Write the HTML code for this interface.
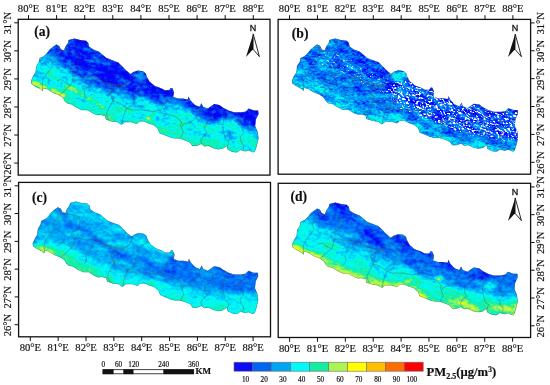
<!DOCTYPE html>
<html lang="en"><head><meta charset="utf-8"><title>PM2.5 Nepal</title>
<style>html,body{margin:0;padding:0;background:#fff}svg{display:block}text{font-family:"Liberation Serif","Times New Roman",serif;fill:#111;stroke:#111;stroke-width:0.18px}.ax{font-size:10.6px}.sm{font-size:7.2px}.lab{font-size:13.6px;font-weight:bold}.n{font-family:"Liberation Sans",Arial,sans-serif;font-size:9px;stroke-width:0.3px}</style></head><body>
<svg width="550" height="385" viewBox="0 0 550 385">
<rect width="550" height="385" fill="#fff"/>
<defs>
<g id="dl" fill="none" stroke="#4a5558" stroke-linejoin="round"><path stroke-opacity="0.8" stroke-width="0.5" d="M56.9 44.8 L58.7 51.2 L56.9 55.8 L51.4 60.4 L53.2 65.9 L49.5 70.5 L45.9 75.1 L43.1 79.6 L42.2 84.2 L43.1 90.7 M58.7 51.2 L66.0 51.2 L72.4 52.1 L77.9 53.9 L78.8 58.5 L77.9 63.1 L76.1 67.7 L70.6 69.5 L69.7 72.3 L73.3 76.0 L72.4 81.5 L70.6 85.2 L63.3 91.6 L59.6 94.9 M56.9 80.6 L61.4 79.6 L65.1 82.4 L70.6 85.2 M73.0 76.0 L78.8 75.1 L84.3 77.8 L90.8 76.9 L94.4 76.0 L99.9 79.6 L104.5 82.4 L110.0 84.2 L116.4 86.1 L124.7 88.8 M94.4 76.0 L91.7 84.2 L87.1 87.9 L84.3 91.6 L85.3 97.1 L82.9 101.7 M110.0 84.2 L111.8 89.7 L110.0 94.3 L113.7 98.0 L112.8 103.5 M132.0 73.2 L130.2 79.6 L126.5 84.2 L116.4 85.2 L110.0 83.3 L104.5 82.4 L99.0 79.6 L94.4 76.0 M126.5 84.2 L118.2 87.0 L112.8 90.7 L110.0 93.4 L112.8 100.8 L108.2 109.0 L106.3 114.5 L109.1 120.0 M147.6 74.1 L146.7 79.6 L141.2 83.3 L136.6 87.0 L137.5 91.6 L134.7 98.0 L132.9 105.4 L126.5 108.1 L132.0 109.9 L143.0 109.9 L153.1 111.8 L159.5 109.9 L162.2 112.7 L167.7 114.5 L175.1 116.4 L181.5 121.9 L180.6 126.5 M173.2 90.7 L168.6 98.0 L163.2 104.4 L161.3 109.9 L159.5 109.9 M126.5 108.1 L122.8 118.2 L121.9 124.6 M112.8 100.8 L119.2 102.6 L126.5 108.1 M199.8 106.7 L198.9 113.2 L195.2 118.7 L190.6 122.3 L183.3 124.2 L181.5 127.8 L183.3 132.4 L180.6 137.9 L178.7 141.6 M211.7 109.5 L212.6 115.0 L209.0 120.5 L205.3 124.2 L204.4 128.8 L207.1 133.4 L202.6 137.0 L200.7 140.7 L202.6 146.2 M223.6 109.5 L224.5 116.8 L222.7 124.2 L223.6 131.5 L225.5 138.9 L229.1 141.6 L227.3 146.2 L226.4 150.8 M245.6 113.2 L243.8 116.8 L240.1 119.6 L238.3 124.2 L242.0 128.8 L243.8 133.4 L240.1 137.0 L241.0 141.6 L243.8 145.3 L242.9 150.8"/><path stroke-opacity="0.8" stroke-width="0.8" d="M30.8 81.2 L33.0 76.3 L35.5 72.3 L36.0 66.5 L38.8 62.0 L39.5 58.3 L43.9 56.1 L46.8 53.2 L49.7 49.5 L53.4 46.6 L56.3 44.5 L59.2 45.9 L61.1 49.5 L64.0 50.3 L65.4 46.6 L67.9 43.0 L68.6 40.1 L74.5 38.6 L80.3 40.1 L86.1 40.8 L88.3 43.0 L89.0 46.6 L93.4 49.5 L99.2 51.7 L103.5 55.4 L106.6 58.1 L112.5 60.3 L118.3 62.5 L121.9 66.1 L126.3 70.5 L130.6 74.1 L133.5 71.9 L137.9 70.5 L143.0 71.2 L145.9 73.4 L146.6 76.3 L149.5 81.4 L154.6 85.7 L160.5 87.9 L164.8 90.1 L169.2 90.1 L170.6 87.9 L172.3 88.1 L174.1 92.3 L173.2 96.8 L177.7 98.6 L183.2 98.6 L187.7 99.5 L188.6 96.5 L190.5 100.5 L195.0 105.0 L199.5 106.8 L201.4 103.2 L203.2 106.8 L207.7 108.6 L211.4 105.9 L214.1 104.1 L219.5 105.0 L223.2 107.7 L228.6 110.5 L234.1 112.3 L241.4 112.3 L245.9 111.4 L248.6 108.6 L254.1 110.5 L258.1 110.5 L258.6 114.1 L255.9 119.5 L255.2 126.3 L257.7 131.8 L258.6 138.5 L256.8 145.9 L255.0 151.4 L253.2 152.6 L248.6 150.5 L245.0 151.4 L240.5 150.1 L236.8 152.6 L232.3 151.9 L227.7 149.5 L226.8 145.9 L223.2 148.6 L218.6 149.5 L213.2 148.3 L208.6 145.9 L204.1 146.5 L201.4 144.1 L196.8 145.9 L192.3 145.9 L189.5 142.3 L185.0 140.5 L179.5 138.6 L174.1 138.6 L169.5 137.3 L164.1 135.0 L159.5 133.2 L157.7 128.6 L153.2 125.0 L147.7 123.2 L144.1 121.4 L139.5 121.4 L136.8 124.1 L131.4 122.3 L125.0 122.3 L121.4 125.0 L117.7 122.3 L111.4 121.4 L105.9 119.5 L105.0 115.9 L100.5 115.0 L97.7 115.3 L93.4 113.8 L87.5 110.2 L81.7 110.2 L75.9 107.3 L71.5 104.4 L67.2 103.6 L65.0 101.5 L62.8 97.8 L58.5 94.9 L52.6 92.7 L46.8 89.1 L43.2 88.4 L42.5 91.3 L40.3 89.1 L35.9 86.9 L31.5 84.0Z"/></g>
<clipPath id="nepal"><path d="M30.8 81.2 L33.0 76.3 L35.5 72.3 L36.0 66.5 L38.8 62.0 L39.5 58.3 L43.9 56.1 L46.8 53.2 L49.7 49.5 L53.4 46.6 L56.3 44.5 L59.2 45.9 L61.1 49.5 L64.0 50.3 L65.4 46.6 L67.9 43.0 L68.6 40.1 L74.5 38.6 L80.3 40.1 L86.1 40.8 L88.3 43.0 L89.0 46.6 L93.4 49.5 L99.2 51.7 L103.5 55.4 L106.6 58.1 L112.5 60.3 L118.3 62.5 L121.9 66.1 L126.3 70.5 L130.6 74.1 L133.5 71.9 L137.9 70.5 L143.0 71.2 L145.9 73.4 L146.6 76.3 L149.5 81.4 L154.6 85.7 L160.5 87.9 L164.8 90.1 L169.2 90.1 L170.6 87.9 L172.3 88.1 L174.1 92.3 L173.2 96.8 L177.7 98.6 L183.2 98.6 L187.7 99.5 L188.6 96.5 L190.5 100.5 L195.0 105.0 L199.5 106.8 L201.4 103.2 L203.2 106.8 L207.7 108.6 L211.4 105.9 L214.1 104.1 L219.5 105.0 L223.2 107.7 L228.6 110.5 L234.1 112.3 L241.4 112.3 L245.9 111.4 L248.6 108.6 L254.1 110.5 L258.1 110.5 L258.6 114.1 L255.9 119.5 L255.2 126.3 L257.7 131.8 L258.6 138.5 L256.8 145.9 L255.0 151.4 L253.2 152.6 L248.6 150.5 L245.0 151.4 L240.5 150.1 L236.8 152.6 L232.3 151.9 L227.7 149.5 L226.8 145.9 L223.2 148.6 L218.6 149.5 L213.2 148.3 L208.6 145.9 L204.1 146.5 L201.4 144.1 L196.8 145.9 L192.3 145.9 L189.5 142.3 L185.0 140.5 L179.5 138.6 L174.1 138.6 L169.5 137.3 L164.1 135.0 L159.5 133.2 L157.7 128.6 L153.2 125.0 L147.7 123.2 L144.1 121.4 L139.5 121.4 L136.8 124.1 L131.4 122.3 L125.0 122.3 L121.4 125.0 L117.7 122.3 L111.4 121.4 L105.9 119.5 L105.0 115.9 L100.5 115.0 L97.7 115.3 L93.4 113.8 L87.5 110.2 L81.7 110.2 L75.9 107.3 L71.5 104.4 L67.2 103.6 L65.0 101.5 L62.8 97.8 L58.5 94.9 L52.6 92.7 L46.8 89.1 L43.2 88.4 L42.5 91.3 L40.3 89.1 L35.9 86.9 L31.5 84.0Z"/></clipPath>
<filter id="fa" x="-20" y="-140" width="400" height="340" filterUnits="userSpaceOnUse" color-interpolation-filters="sRGB">
<feGaussianBlur in="SourceGraphic" stdDeviation="1.70" result="fld"/>
<feTurbulence type="fractalNoise" baseFrequency="0.060 0.120" numOctaves="3" seed="3" result="t1"/>
<feColorMatrix in="t1" type="matrix" values="1 0 0 0 0 1 0 0 0 0 1 0 0 0 0 0 0 0 0 1" result="n1"/>
<feComposite in="fld" in2="n1" operator="arithmetic" k1="0" k2="1" k3="0.275" k4="-0.138"/>
</filter>
<filter id="ca" x="0" y="0" width="290" height="190" filterUnits="userSpaceOnUse" color-interpolation-filters="sRGB">
<feTurbulence type="fractalNoise" baseFrequency="0.250 0.350" numOctaves="2" seed="23" result="t2"/>
<feColorMatrix in="t2" type="matrix" values="1 0 0 0 0 1 0 0 0 0 1 0 0 0 0 0 0 0 0 1" result="n2"/>
<feComposite in="SourceGraphic" in2="n2" operator="arithmetic" k1="0" k2="1" k3="0.225" k4="-0.112" result="v"/>
<feComponentTransfer in="v"><feFuncR type="table" tableValues="0.000 0.020 0.000 0.000 0.000 0.059 0.667 1.000 1.000 1.000 1.000"/><feFuncG type="table" tableValues="0.000 0.039 0.392 0.659 0.980 0.933 0.961 1.000 0.745 0.431 0.000"/><feFuncB type="table" tableValues="0.980 0.973 0.961 0.961 0.980 0.647 0.314 0.000 0.000 0.000 0.000"/><feFuncA type="linear" slope="0" intercept="1"/></feComponentTransfer>
</filter>
<filter id="fb" x="-20" y="-140" width="400" height="340" filterUnits="userSpaceOnUse" color-interpolation-filters="sRGB">
<feGaussianBlur in="SourceGraphic" stdDeviation="1.60" result="fld"/>
<feTurbulence type="fractalNoise" baseFrequency="0.070 0.180" numOctaves="3" seed="7" result="t1"/>
<feColorMatrix in="t1" type="matrix" values="1 0 0 0 0 1 0 0 0 0 1 0 0 0 0 0 0 0 0 1" result="n1"/>
<feComposite in="fld" in2="n1" operator="arithmetic" k1="0" k2="1" k3="0.400" k4="-0.200"/>
</filter>
<filter id="cb" x="0" y="0" width="290" height="190" filterUnits="userSpaceOnUse" color-interpolation-filters="sRGB">
<feTurbulence type="fractalNoise" baseFrequency="0.350 0.550" numOctaves="2" seed="27" result="t2"/>
<feColorMatrix in="t2" type="matrix" values="1 0 0 0 0 1 0 0 0 0 1 0 0 0 0 0 0 0 0 1" result="n2"/>
<feComposite in="SourceGraphic" in2="n2" operator="arithmetic" k1="0" k2="1" k3="0.300" k4="-0.150" result="v"/>
<feComponentTransfer in="v"><feFuncR type="table" tableValues="0.000 0.020 0.000 0.000 0.000 0.059 0.667 1.000 1.000 1.000 1.000"/><feFuncG type="table" tableValues="0.000 0.039 0.392 0.659 0.980 0.933 0.961 1.000 0.745 0.431 0.000"/><feFuncB type="table" tableValues="0.980 0.973 0.961 0.961 0.980 0.647 0.314 0.000 0.000 0.000 0.000"/><feFuncA type="linear" slope="0" intercept="1"/></feComponentTransfer>
</filter>
<filter id="fc" x="-20" y="-140" width="400" height="340" filterUnits="userSpaceOnUse" color-interpolation-filters="sRGB">
<feGaussianBlur in="SourceGraphic" stdDeviation="1.50" result="fld"/>
<feTurbulence type="fractalNoise" baseFrequency="0.050 0.100" numOctaves="3" seed="11" result="t1"/>
<feColorMatrix in="t1" type="matrix" values="1 0 0 0 0 1 0 0 0 0 1 0 0 0 0 0 0 0 0 1" result="n1"/>
<feComposite in="fld" in2="n1" operator="arithmetic" k1="0" k2="1" k3="0.200" k4="-0.100"/>
</filter>
<filter id="cc" x="0" y="0" width="290" height="190" filterUnits="userSpaceOnUse" color-interpolation-filters="sRGB">
<feTurbulence type="fractalNoise" baseFrequency="0.250 0.350" numOctaves="2" seed="31" result="t2"/>
<feColorMatrix in="t2" type="matrix" values="1 0 0 0 0 1 0 0 0 0 1 0 0 0 0 0 0 0 0 1" result="n2"/>
<feComposite in="SourceGraphic" in2="n2" operator="arithmetic" k1="0" k2="1" k3="0.150" k4="-0.075" result="v"/>
<feComponentTransfer in="v"><feFuncR type="table" tableValues="0.000 0.020 0.000 0.000 0.000 0.059 0.667 1.000 1.000 1.000 1.000"/><feFuncG type="table" tableValues="0.000 0.039 0.392 0.659 0.980 0.933 0.961 1.000 0.745 0.431 0.000"/><feFuncB type="table" tableValues="0.980 0.973 0.961 0.961 0.980 0.647 0.314 0.000 0.000 0.000 0.000"/><feFuncA type="linear" slope="0" intercept="1"/></feComponentTransfer>
</filter>
<filter id="fd" x="-20" y="-140" width="400" height="340" filterUnits="userSpaceOnUse" color-interpolation-filters="sRGB">
<feGaussianBlur in="SourceGraphic" stdDeviation="1.80" result="fld"/>
<feTurbulence type="fractalNoise" baseFrequency="0.050 0.100" numOctaves="3" seed="5" result="t1"/>
<feColorMatrix in="t1" type="matrix" values="1 0 0 0 0 1 0 0 0 0 1 0 0 0 0 0 0 0 0 1" result="n1"/>
<feComposite in="fld" in2="n1" operator="arithmetic" k1="0" k2="1" k3="0.275" k4="-0.138"/>
</filter>
<filter id="cd" x="0" y="0" width="290" height="190" filterUnits="userSpaceOnUse" color-interpolation-filters="sRGB">
<feTurbulence type="fractalNoise" baseFrequency="0.250 0.350" numOctaves="2" seed="25" result="t2"/>
<feColorMatrix in="t2" type="matrix" values="1 0 0 0 0 1 0 0 0 0 1 0 0 0 0 0 0 0 0 1" result="n2"/>
<feComposite in="SourceGraphic" in2="n2" operator="arithmetic" k1="0" k2="1" k3="0.175" k4="-0.088" result="v"/>
<feComponentTransfer in="v"><feFuncR type="table" tableValues="0.000 0.020 0.000 0.000 0.000 0.059 0.667 1.000 1.000 1.000 1.000"/><feFuncG type="table" tableValues="0.000 0.039 0.392 0.659 0.980 0.933 0.961 1.000 0.745 0.431 0.000"/><feFuncB type="table" tableValues="0.980 0.973 0.961 0.961 0.980 0.647 0.314 0.000 0.000 0.000 0.000"/><feFuncA type="linear" slope="0" intercept="1"/></feComponentTransfer>
</filter>
<filter id="spk" x="-20" y="-200" width="420" height="420" filterUnits="userSpaceOnUse" color-interpolation-filters="sRGB"><feGaussianBlur in="SourceGraphic" stdDeviation="3" result="m"/><feTurbulence type="fractalNoise" baseFrequency="0.38 1.1" numOctaves="2" seed="9" result="t"/><feColorMatrix in="t" type="matrix" values="0 0 0 0 1 0 0 0 0 1 0 0 0 0 1 1 0 0 0 0" result="w"/><feComposite in="w" in2="m" operator="arithmetic" k1="1" k2="0" k3="0" k4="0" result="wm"/><feComponentTransfer in="wm"><feFuncA type="linear" slope="9" intercept="-4.6"/></feComponentTransfer></filter>
</defs>
<g transform="translate(0.00,0.00) scale(1.0000,1.0000)">
<g clip-path="url(#nepal)"><g filter="url(#ca)"><g transform="rotate(17)"><g filter="url(#fa)"><g transform="rotate(-17)">
<rect x="-20" y="-20" width="340" height="240" fill="rgb(116,116,116)"/>
<polygon points="22.0,0.0 22.0,80.4 25.0,80.7 28.0,81.8 31.0,82.8 34.0,83.2 37.0,83.6 40.0,84.3 43.0,85.3 46.0,86.3 49.0,87.4 52.0,88.5 55.0,89.5 58.0,90.7 61.0,91.9 64.0,93.5 67.0,95.1 70.0,97.0 73.0,98.8 76.0,100.4 79.0,101.4 82.0,102.4 85.0,103.4 88.0,104.4 91.0,105.6 94.0,106.8 97.0,108.1 100.0,109.4 103.0,110.8 106.0,112.1 109.0,113.4 112.0,114.7 115.0,114.9 118.0,115.2 121.0,115.4 124.0,115.8 127.0,116.2 130.0,116.5 133.0,116.7 136.0,116.8 139.0,116.9 142.0,117.5 145.0,118.3 148.0,119.5 151.0,120.9 154.0,122.2 157.0,123.3 160.0,126.0 163.0,128.7 166.0,130.1 169.0,130.8 172.0,131.6 175.0,132.5 178.0,133.3 181.0,134.2 184.0,135.1 187.0,136.0 190.0,136.9 193.0,137.8 196.0,138.7 199.0,139.6 202.0,140.5 205.0,141.5 208.0,141.9 211.0,142.3 214.0,142.7 217.0,143.2 220.0,143.6 223.0,144.1 226.0,144.6 229.0,145.2 232.0,145.5 235.0,145.7 238.0,146.0 241.0,146.2 244.0,146.4 247.0,146.6 250.0,146.7 253.0,146.8 256.0,146.9 259.0,147.0 262.0,147.0 265.0,147.0 265.0,0.0" fill="rgb(102,102,102)"/>
<polygon points="22.0,0.0 22.0,84.8 25.0,84.2 28.0,82.4 31.0,80.6 34.0,70.5 37.0,62.9 40.0,58.7 43.0,58.7 46.0,59.2 49.0,60.0 52.0,61.3 55.0,63.2 58.0,66.2 61.0,69.0 64.0,70.7 67.0,72.7 70.0,75.3 73.0,78.2 76.0,81.0 79.0,83.5 82.0,86.1 85.0,88.6 88.0,89.0 91.0,90.1 94.0,91.2 97.0,92.4 100.0,93.6 103.0,94.8 106.0,96.0 109.0,96.9 112.0,97.8 115.0,98.1 118.0,98.5 121.0,98.9 124.0,99.6 127.0,100.5 130.0,101.4 133.0,101.6 136.0,101.4 139.0,101.3 142.0,101.5 145.0,101.9 148.0,103.5 151.0,105.5 154.0,107.0 157.0,107.3 160.0,108.1 163.0,108.7 166.0,108.5 169.0,108.0 172.0,107.5 175.0,107.7 178.0,107.9 181.0,108.8 184.0,110.8 187.0,112.9 190.0,114.9 193.0,116.8 196.0,118.7 199.0,120.6 202.0,122.5 205.0,124.4 208.0,125.1 211.0,125.8 214.0,126.6 217.0,126.1 220.0,124.9 223.0,124.0 226.0,123.4 229.0,122.9 232.0,124.0 235.0,125.9 238.0,127.8 241.0,129.6 244.0,131.4 247.0,132.2 250.0,132.5 253.0,132.9 256.0,133.3 259.0,133.5 262.0,133.5 265.0,133.5 265.0,0.0" fill="rgb(84,84,84)"/>
<polygon points="22.0,0.0 22.0,85.2 25.0,84.5 28.0,82.5 31.0,80.4 34.0,68.3 37.0,57.5 40.0,49.2 43.0,51.1 46.0,54.3 49.0,56.2 52.0,57.3 55.0,59.0 58.0,61.9 61.0,64.6 64.0,66.0 67.0,67.7 70.0,70.1 73.0,72.9 76.0,75.7 79.0,78.1 82.0,80.6 85.0,83.1 88.0,83.4 91.0,84.6 94.0,85.8 97.0,87.1 100.0,88.4 103.0,89.8 106.0,91.0 109.0,91.9 112.0,92.9 115.0,93.3 118.0,93.8 121.0,94.3 124.0,95.2 127.0,96.3 130.0,97.4 133.0,97.7 136.0,97.5 139.0,97.3 142.0,97.4 145.0,97.5 148.0,99.2 151.0,101.4 154.0,103.1 157.0,103.5 160.0,103.9 163.0,104.3 166.0,104.0 169.0,103.4 172.0,102.8 175.0,103.0 178.0,103.3 181.0,104.2 184.0,106.4 187.0,108.5 190.0,110.6 193.0,112.6 196.0,114.6 199.0,116.6 202.0,118.7 205.0,120.8 208.0,121.5 211.0,122.3 214.0,123.2 217.0,122.3 220.0,120.6 223.0,119.0 226.0,118.0 229.0,117.0 232.0,118.2 235.0,120.5 238.0,122.8 241.0,125.0 244.0,127.2 247.0,128.2 250.0,128.6 253.0,129.0 256.0,129.5 259.0,129.7 262.0,129.7 265.0,129.7 265.0,0.0" fill="rgb(50,50,50)"/>
<polygon points="22.0,0.0 22.0,85.6 25.0,84.8 28.0,82.5 31.0,80.2 34.0,67.0 37.0,55.3 40.0,46.3 43.0,42.1 46.0,40.3 49.0,44.5 52.0,50.2 55.0,51.1 58.0,53.3 61.0,56.3 64.0,58.1 67.0,59.5 70.0,61.8 73.0,64.5 76.0,67.2 79.0,69.7 82.0,72.2 85.0,74.8 88.0,75.1 91.0,76.4 94.0,77.8 97.0,79.2 100.0,80.7 103.0,82.1 106.0,83.5 109.0,84.5 112.0,85.5 115.0,86.0 118.0,86.7 121.0,87.4 124.0,88.5 127.0,89.9 130.0,91.3 133.0,91.7 136.0,91.5 139.0,91.2 142.0,91.2 145.0,91.3 148.0,93.3 151.0,95.9 154.0,98.0 157.0,98.5 160.0,98.6 163.0,98.7 166.0,98.3 169.0,97.6 172.0,97.0 175.0,97.4 178.0,97.7 181.0,98.8 184.0,101.0 187.0,103.3 190.0,105.5 193.0,107.6 196.0,109.7 199.0,111.8 202.0,113.9 205.0,115.9 208.0,116.4 211.0,116.9 214.0,117.4 217.0,116.6 220.0,115.1 223.0,113.8 226.0,113.2 229.0,112.6 232.0,111.9 235.0,114.6 238.0,117.2 241.0,119.8 244.0,122.3 247.0,123.4 250.0,123.8 253.0,124.3 256.0,124.8 259.0,125.1 262.0,125.1 265.0,125.1 265.0,0.0" fill="rgb(32,32,32)"/>
<ellipse cx="39.0" cy="85.3" rx="10.0" ry="2.2" fill="rgb(184,184,184)" transform="rotate(25.0 39.0 85.3)"/>
<ellipse cx="57.0" cy="93.0" rx="9.0" ry="2.0" fill="rgb(173,173,173)" transform="rotate(28.0 57.0 93.0)"/>
<ellipse cx="85.0" cy="97.0" rx="24.0" ry="2.6" fill="rgb(140,140,140)" transform="rotate(29.0 85.0 97.0)"/>
<ellipse cx="170.0" cy="133.0" rx="14.0" ry="1.6" fill="rgb(143,143,143)" transform="rotate(15.0 170.0 133.0)"/>
<ellipse cx="215.0" cy="141.0" rx="16.0" ry="1.6" fill="rgb(143,143,143)" transform="rotate(8.0 215.0 141.0)"/>
<ellipse cx="148.6" cy="117.7" rx="2.6" ry="1.6" fill="rgb(189,189,189)" transform="rotate(0.0 148.6 117.7)"/>
<ellipse cx="139.5" cy="77.5" rx="6.0" ry="5.0" fill="rgb(64,64,64)" transform="rotate(0.0 139.5 77.5)"/>
</g></g></g></g>
<use href="#dl"/>
</g>
</g>
<rect x="18.20" y="19.30" width="251.80" height="155.80" fill="none" stroke="#111" stroke-width="1.3"/>
<line x1="28.50" y1="19.30" x2="28.50" y2="15.10" stroke="#111" stroke-width="1"/>
<text class="ax" x="28.50" y="11.70" text-anchor="middle">80°E</text>
<line x1="56.60" y1="19.30" x2="56.60" y2="15.10" stroke="#111" stroke-width="1"/>
<text class="ax" x="56.60" y="11.70" text-anchor="middle">81°E</text>
<line x1="84.70" y1="19.30" x2="84.70" y2="15.10" stroke="#111" stroke-width="1"/>
<text class="ax" x="84.70" y="11.70" text-anchor="middle">82°E</text>
<line x1="112.80" y1="19.30" x2="112.80" y2="15.10" stroke="#111" stroke-width="1"/>
<text class="ax" x="112.80" y="11.70" text-anchor="middle">83°E</text>
<line x1="140.90" y1="19.30" x2="140.90" y2="15.10" stroke="#111" stroke-width="1"/>
<text class="ax" x="140.90" y="11.70" text-anchor="middle">84°E</text>
<line x1="169.00" y1="19.30" x2="169.00" y2="15.10" stroke="#111" stroke-width="1"/>
<text class="ax" x="169.00" y="11.70" text-anchor="middle">85°E</text>
<line x1="197.10" y1="19.30" x2="197.10" y2="15.10" stroke="#111" stroke-width="1"/>
<text class="ax" x="197.10" y="11.70" text-anchor="middle">86°E</text>
<line x1="225.20" y1="19.30" x2="225.20" y2="15.10" stroke="#111" stroke-width="1"/>
<text class="ax" x="225.20" y="11.70" text-anchor="middle">87°E</text>
<line x1="253.30" y1="19.30" x2="253.30" y2="15.10" stroke="#111" stroke-width="1"/>
<text class="ax" x="253.30" y="11.70" text-anchor="middle">88°E</text>
<line x1="18.20" y1="22.80" x2="14.20" y2="22.80" stroke="#111" stroke-width="1"/>
<text class="ax" transform="translate(10.80,23.20) rotate(-90)" text-anchor="middle">31°N</text>
<line x1="18.20" y1="50.86" x2="14.20" y2="50.86" stroke="#111" stroke-width="1"/>
<text class="ax" transform="translate(10.80,51.26) rotate(-90)" text-anchor="middle">30°N</text>
<line x1="18.20" y1="78.92" x2="14.20" y2="78.92" stroke="#111" stroke-width="1"/>
<text class="ax" transform="translate(10.80,79.32) rotate(-90)" text-anchor="middle">29°N</text>
<line x1="18.20" y1="106.98" x2="14.20" y2="106.98" stroke="#111" stroke-width="1"/>
<text class="ax" transform="translate(10.80,107.38) rotate(-90)" text-anchor="middle">28°N</text>
<line x1="18.20" y1="135.04" x2="14.20" y2="135.04" stroke="#111" stroke-width="1"/>
<text class="ax" transform="translate(10.80,135.44) rotate(-90)" text-anchor="middle">27°N</text>
<line x1="18.20" y1="163.10" x2="14.20" y2="163.10" stroke="#111" stroke-width="1"/>
<text class="ax" transform="translate(10.80,163.50) rotate(-90)" text-anchor="middle">26°N</text>
<text class="lab" x="34.30" y="35.60">(a)</text>
<text class="n" x="253.00" y="30.90" text-anchor="middle">N</text>
<path d="M253.20 33.90 L246.00 56.90 L253.00 49.20 Z" fill="#111"/>
<path d="M253.20 33.90 L259.40 56.60 L253.00 49.20 Z" fill="#fff" stroke="#111" stroke-width="0.9" stroke-linejoin="miter"/>
<g transform="translate(261.18,0.25) scale(0.9938,0.9936)">
<g clip-path="url(#nepal)"><g filter="url(#cb)"><g transform="rotate(17)"><g filter="url(#fb)"><g transform="rotate(-17)">
<rect x="-20" y="-20" width="340" height="240" fill="rgb(84,84,84)"/>
<polygon points="22.0,0.0 22.0,84.8 25.0,84.1 28.0,82.4 31.0,80.8 34.0,70.8 37.0,66.0 40.0,66.2 43.0,71.1 46.0,75.6 49.0,77.2 52.0,79.0 55.0,81.3 58.0,84.0 61.0,86.5 64.0,88.1 67.0,89.8 70.0,91.8 73.0,93.9 76.0,95.8 79.0,97.2 82.0,98.6 85.0,99.9 88.0,101.3 91.0,103.0 94.0,104.7 97.0,106.4 100.0,108.2 103.0,109.5 106.0,110.9 109.0,112.2 112.0,113.5 115.0,113.8 118.0,114.1 121.0,114.4 124.0,114.8 127.0,115.2 130.0,115.6 133.0,115.8 136.0,115.9 139.0,116.0 142.0,116.6 145.0,117.5 148.0,118.7 151.0,120.1 154.0,121.5 157.0,122.6 160.0,125.3 163.0,127.9 166.0,129.3 169.0,130.1 172.0,130.8 175.0,131.7 178.0,132.6 181.0,133.5 184.0,134.4 187.0,135.4 190.0,136.3 193.0,137.2 196.0,138.2 199.0,139.1 202.0,140.0 205.0,140.9 208.0,141.4 211.0,141.8 214.0,142.2 217.0,142.6 220.0,143.0 223.0,143.5 226.0,144.1 229.0,144.7 232.0,145.0 235.0,145.3 238.0,145.5 241.0,145.7 244.0,146.0 247.0,146.1 250.0,146.2 253.0,146.4 256.0,146.5 259.0,146.5 262.0,146.5 265.0,146.5 265.0,0.0" fill="rgb(60,60,60)"/>
<polygon points="22.0,0.0 22.0,85.2 25.0,84.5 28.0,82.5 31.0,80.4 34.0,68.3 37.0,57.5 40.0,49.2 43.0,45.4 46.0,41.6 49.0,37.7 52.0,33.9 55.0,30.0 58.0,27.3 61.0,26.0 64.0,26.3 67.0,26.8 70.0,28.9 73.0,31.8 76.0,34.8 79.0,38.0 82.0,41.3 85.0,44.6 88.0,47.9 91.0,53.1 94.0,58.2 97.0,63.2 100.0,68.1 103.0,71.4 106.0,74.4 109.0,77.0 112.0,79.6 115.0,81.8 118.0,83.9 121.0,86.0 124.0,88.5 127.0,91.1 130.0,93.6 133.0,95.1 136.0,96.0 139.0,96.9 142.0,98.2 145.0,99.6 148.0,102.4 151.0,105.6 154.0,108.4 157.0,110.1 160.0,112.5 163.0,114.9 166.0,116.4 169.0,117.5 172.0,118.6 175.0,120.2 178.0,121.7 181.0,123.2 184.0,124.7 187.0,126.2 190.0,127.7 193.0,129.2 196.0,130.6 199.0,132.1 202.0,133.2 205.0,134.3 208.0,134.6 211.0,134.8 214.0,135.1 217.0,135.4 220.0,135.7 223.0,136.0 226.0,136.7 229.0,137.3 232.0,137.7 235.0,138.1 238.0,138.4 241.0,138.7 244.0,139.1 247.0,139.2 250.0,139.3 253.0,139.3 256.0,139.4 259.0,139.4 262.0,139.4 265.0,139.4 265.0,0.0" fill="rgb(43,43,43)"/>
<ellipse cx="139.0" cy="77.0" rx="8.0" ry="6.0" fill="rgb(89,89,89)" transform="rotate(0.0 139.0 77.0)"/>
<ellipse cx="75.0" cy="92.0" rx="22.0" ry="2.0" fill="rgb(82,82,82)" transform="rotate(28.0 75.0 92.0)"/>
<ellipse cx="120.0" cy="112.0" rx="22.0" ry="1.8" fill="rgb(79,79,79)" transform="rotate(10.0 120.0 112.0)"/>
</g></g></g></g>
<g transform="rotate(33)"><g filter="url(#spk)"><g transform="rotate(-33)"><path d="M62 58 L95 70 L125 86 L150 98" fill="none" stroke="#fff" stroke-opacity="0.88" stroke-width="26" stroke-linecap="round"/><path d="M146 95 L170 106 L200 118 L230 125 L258 127" fill="none" stroke="#fff" stroke-opacity="1" stroke-width="37" stroke-linecap="round"/></g></g></g>
<use href="#dl"/>
</g>
</g>
<rect x="278.10" y="19.40" width="252.50" height="154.80" fill="none" stroke="#111" stroke-width="1.3"/>
<line x1="289.50" y1="19.40" x2="289.50" y2="15.20" stroke="#111" stroke-width="1"/>
<text class="ax" x="289.50" y="11.80" text-anchor="middle">80°E</text>
<line x1="317.43" y1="19.40" x2="317.43" y2="15.20" stroke="#111" stroke-width="1"/>
<text class="ax" x="317.43" y="11.80" text-anchor="middle">81°E</text>
<line x1="345.35" y1="19.40" x2="345.35" y2="15.20" stroke="#111" stroke-width="1"/>
<text class="ax" x="345.35" y="11.80" text-anchor="middle">82°E</text>
<line x1="373.27" y1="19.40" x2="373.27" y2="15.20" stroke="#111" stroke-width="1"/>
<text class="ax" x="373.27" y="11.80" text-anchor="middle">83°E</text>
<line x1="401.20" y1="19.40" x2="401.20" y2="15.20" stroke="#111" stroke-width="1"/>
<text class="ax" x="401.20" y="11.80" text-anchor="middle">84°E</text>
<line x1="429.12" y1="19.40" x2="429.12" y2="15.20" stroke="#111" stroke-width="1"/>
<text class="ax" x="429.12" y="11.80" text-anchor="middle">85°E</text>
<line x1="457.05" y1="19.40" x2="457.05" y2="15.20" stroke="#111" stroke-width="1"/>
<text class="ax" x="457.05" y="11.80" text-anchor="middle">86°E</text>
<line x1="484.97" y1="19.40" x2="484.97" y2="15.20" stroke="#111" stroke-width="1"/>
<text class="ax" x="484.97" y="11.80" text-anchor="middle">87°E</text>
<line x1="512.90" y1="19.40" x2="512.90" y2="15.20" stroke="#111" stroke-width="1"/>
<text class="ax" x="512.90" y="11.80" text-anchor="middle">88°E</text>
<line x1="530.60" y1="22.90" x2="534.60" y2="22.90" stroke="#111" stroke-width="1"/>
<text class="ax" transform="translate(544.40,23.30) rotate(-90)" text-anchor="middle">31°N</text>
<line x1="530.60" y1="50.78" x2="534.60" y2="50.78" stroke="#111" stroke-width="1"/>
<text class="ax" transform="translate(544.40,51.18) rotate(-90)" text-anchor="middle">30°N</text>
<line x1="530.60" y1="78.66" x2="534.60" y2="78.66" stroke="#111" stroke-width="1"/>
<text class="ax" transform="translate(544.40,79.06) rotate(-90)" text-anchor="middle">29°N</text>
<line x1="530.60" y1="106.54" x2="534.60" y2="106.54" stroke="#111" stroke-width="1"/>
<text class="ax" transform="translate(544.40,106.94) rotate(-90)" text-anchor="middle">28°N</text>
<line x1="530.60" y1="134.42" x2="534.60" y2="134.42" stroke="#111" stroke-width="1"/>
<text class="ax" transform="translate(544.40,134.82) rotate(-90)" text-anchor="middle">27°N</text>
<line x1="530.60" y1="162.30" x2="534.60" y2="162.30" stroke="#111" stroke-width="1"/>
<text class="ax" transform="translate(544.40,162.70) rotate(-90)" text-anchor="middle">26°N</text>
<text class="lab" x="291.80" y="37.50">(b)</text>
<text class="n" x="515.00" y="31.00" text-anchor="middle">N</text>
<path d="M515.20 34.00 L508.00 57.00 L515.00 49.30 Z" fill="#111"/>
<path d="M515.20 34.00 L521.40 56.70 L515.00 49.30 Z" fill="#fff" stroke="#111" stroke-width="0.9" stroke-linejoin="miter"/>
<g transform="translate(2.05,163.23) scale(0.9911,0.9900)">
<g clip-path="url(#nepal)"><g filter="url(#cc)"><g transform="rotate(17)"><g filter="url(#fc)"><g transform="rotate(-17)">
<rect x="-20" y="-20" width="340" height="240" fill="rgb(78,78,78)"/>
<polygon points="22.0,0.0 22.0,85.6 25.0,84.8 28.0,82.5 31.0,80.2 34.0,67.0 37.0,55.3 40.0,46.3 43.0,42.1 46.0,37.9 49.0,33.6 52.0,29.3 55.0,25.0 58.0,36.1 61.0,49.3 64.0,64.2 67.0,64.6 70.0,65.9 73.0,67.4 76.0,68.9 79.0,70.1 82.0,71.3 85.0,72.5 88.0,73.7 91.0,76.0 94.0,78.3 97.0,80.6 100.0,82.9 103.0,85.6 106.0,88.0 109.0,90.2 112.0,92.3 115.0,93.9 118.0,95.4 121.0,96.8 124.0,98.5 127.0,100.4 130.0,102.1 133.0,102.5 136.0,102.6 139.0,102.7 142.0,103.1 145.0,103.7 148.0,105.4 151.0,107.7 154.0,110.0 157.0,111.3 160.0,113.4 163.0,115.4 166.0,116.5 169.0,117.2 172.0,117.5 175.0,118.1 178.0,118.7 181.0,119.3 184.0,119.9 187.0,120.6 190.0,121.3 193.0,122.0 196.0,122.7 199.0,123.4 202.0,124.5 205.0,125.7 208.0,125.7 211.0,125.7 214.0,125.7 217.0,125.8 220.0,125.8 223.0,126.0 226.0,126.6 229.0,127.3 232.0,127.8 235.0,128.2 238.0,128.7 241.0,129.1 244.0,129.6 247.0,129.7 250.0,129.6 253.0,129.5 256.0,129.4 259.0,129.3 262.0,129.3 265.0,129.3 265.0,0.0" fill="rgb(56,56,56)"/>
<polygon points="22.0,0.0 22.0,86.0 25.0,85.1 28.0,82.6 31.0,80.0 34.0,65.8 37.0,53.1 40.0,43.4 43.0,38.8 46.0,34.1 49.0,29.4 52.0,24.8 55.0,20.1 58.0,16.8 61.0,30.8 64.0,46.5 67.0,58.2 70.0,59.2 73.0,60.6 76.0,61.9 79.0,63.1 82.0,64.2 85.0,65.4 88.0,66.6 91.0,69.1 94.0,71.5 97.0,74.0 100.0,76.5 103.0,78.9 106.0,81.2 109.0,83.0 112.0,84.9 115.0,86.3 118.0,87.7 121.0,89.1 124.0,90.8 127.0,92.7 130.0,94.6 133.0,94.9 136.0,94.7 139.0,94.5 142.0,94.6 145.0,94.7 148.0,96.6 151.0,99.2 154.0,102.0 157.0,103.2 160.0,104.5 163.0,102.8 166.0,100.3 169.0,97.6 172.0,94.8 175.0,93.0 178.0,90.5 181.0,88.1 184.0,85.9 187.0,83.8 190.0,81.8 193.0,83.8 196.0,85.7 199.0,87.6 202.0,89.5 205.0,91.4 208.0,90.7 211.0,90.0 214.0,89.3 217.0,88.6 220.0,87.8 223.0,87.7 226.0,88.5 229.0,89.4 232.0,90.4 235.0,91.4 238.0,92.5 241.0,93.5 244.0,94.5 247.0,94.6 250.0,94.2 253.0,93.8 256.0,93.5 259.0,93.2 262.0,93.2 265.0,93.2 265.0,0.0" fill="rgb(83,83,83)"/>
<polygon points="22.0,200.0 22.0,82.0 25.0,81.9 28.0,82.0 31.0,82.1 34.0,79.3 37.0,77.2 40.0,76.0 43.0,76.3 46.0,76.7 49.0,77.2 52.0,77.8 55.0,78.6 58.0,79.7 61.0,80.9 64.0,82.2 67.0,83.7 70.0,85.6 73.0,87.6 76.0,89.4 79.0,90.7 82.0,92.1 85.0,93.5 88.0,94.8 91.0,96.7 94.0,98.5 97.0,100.4 100.0,102.3 103.0,103.9 106.0,105.4 109.0,106.8 112.0,108.2 115.0,108.7 118.0,109.2 121.0,109.7 124.0,110.3 127.0,111.0 130.0,111.7 133.0,112.1 136.0,112.2 139.0,112.4 142.0,113.0 145.0,113.8 148.0,115.2 151.0,116.6 154.0,117.6 157.0,118.0 160.0,119.7 163.0,121.3 166.0,121.7 169.0,121.7 172.0,121.6 175.0,121.8 178.0,122.5 181.0,123.1 184.0,123.8 187.0,124.5 190.0,125.2 193.0,126.0 196.0,126.7 199.0,127.4 202.0,128.4 205.0,129.5 208.0,129.6 211.0,129.7 214.0,129.8 217.0,129.9 220.0,130.0 223.0,130.2 226.0,130.8 229.0,131.4 232.0,131.8 235.0,132.2 238.0,132.6 241.0,132.9 244.0,133.3 247.0,133.4 250.0,133.3 253.0,133.2 256.0,133.2 259.0,133.1 262.0,133.1 265.0,133.1 265.0,200.0" fill="rgb(96,96,96)"/>
<polygon points="22.0,200.0 22.0,80.8 25.0,81.0 28.0,81.8 31.0,82.6 34.0,82.1 37.0,81.8 40.0,81.9 43.0,82.7 46.0,83.4 49.0,84.2 52.0,85.1 55.0,85.9 58.0,87.0 61.0,88.1 64.0,89.6 67.0,91.3 70.0,93.3 73.0,95.3 76.0,97.0 79.0,98.3 82.0,99.5 85.0,100.7 88.0,102.0 91.0,103.5 94.0,105.0 97.0,106.6 100.0,108.2 103.0,109.9 106.0,111.5 109.0,113.1 112.0,114.7 115.0,128.8 118.0,142.2 121.0,150.5 124.0,149.5 127.0,148.3 130.0,147.2 133.0,146.9 136.0,147.0 139.0,147.2 142.0,148.2 145.0,149.7 148.0,149.7 151.0,149.0 154.0,148.3 157.0,148.8 160.0,153.1 163.0,157.3 166.0,159.3 169.0,160.2 172.0,161.1 175.0,161.5 178.0,161.8 181.0,162.2 184.0,162.5 187.0,162.9 190.0,163.3 193.0,163.8 196.0,164.2 199.0,164.6 202.0,165.1 205.0,165.5 208.0,166.5 211.0,167.5 214.0,168.5 217.0,169.4 220.0,170.4 223.0,171.2 226.0,171.6 229.0,172.1 232.0,172.1 235.0,172.0 238.0,171.8 241.0,171.7 244.0,171.5 247.0,171.7 250.0,172.0 253.0,172.4 256.0,172.8 259.0,173.0 262.0,173.0 265.0,173.0 265.0,200.0" fill="rgb(128,128,128)"/>
<polygon points="22.0,200.0 22.0,78.0 25.0,78.9 28.0,81.4 31.0,84.0 34.0,90.6 37.0,96.7 40.0,101.8 43.0,105.2 46.0,108.6 49.0,112.2 52.0,115.8 55.0,119.3 58.0,122.4 61.0,125.3 64.0,128.7 67.0,132.5 70.0,135.7 73.0,138.5 76.0,141.0 79.0,142.4 82.0,143.9 85.0,145.3 88.0,146.8 91.0,147.3 94.0,147.7 97.0,148.3 100.0,148.9 103.0,143.2 106.0,137.8 109.0,132.7 112.0,127.7 115.0,121.6 118.0,115.8 121.0,116.1 124.0,116.4 127.0,116.8 130.0,117.1 133.0,117.3 136.0,117.4 139.0,117.5 142.0,118.1 145.0,119.0 148.0,120.2 151.0,121.5 154.0,122.8 157.0,123.8 160.0,126.6 163.0,129.3 166.0,130.8 169.0,131.5 172.0,132.0 175.0,132.4 178.0,132.8 181.0,133.2 184.0,133.7 187.0,134.2 190.0,134.7 193.0,135.3 196.0,135.8 199.0,136.4 202.0,137.2 205.0,138.1 208.0,138.3 211.0,138.6 214.0,138.9 217.0,139.1 220.0,139.4 223.0,139.7 226.0,140.2 229.0,140.8 232.0,141.1 235.0,141.3 238.0,141.5 241.0,141.7 244.0,141.9 247.0,142.0 250.0,142.0 253.0,142.0 256.0,141.9 259.0,141.9 262.0,141.9 265.0,141.9 265.0,200.0" fill="rgb(107,107,107)"/>
<ellipse cx="43.0" cy="88.0" rx="13.0" ry="1.3" fill="rgb(158,158,158)" transform="rotate(25.0 43.0 88.0)"/>
<ellipse cx="150.0" cy="121.0" rx="4.0" ry="1.5" fill="rgb(148,148,148)" transform="rotate(10.0 150.0 121.0)"/>
</g></g></g></g>
<use href="#dl"/>
</g>
</g>
<rect x="18.60" y="182.40" width="251.90" height="154.40" fill="none" stroke="#111" stroke-width="1.3"/>
<line x1="30.30" y1="336.80" x2="30.30" y2="341.00" stroke="#111" stroke-width="1"/>
<text class="ax" x="30.30" y="350.90" text-anchor="middle">80°E</text>
<line x1="58.15" y1="336.80" x2="58.15" y2="341.00" stroke="#111" stroke-width="1"/>
<text class="ax" x="58.15" y="350.90" text-anchor="middle">81°E</text>
<line x1="86.00" y1="336.80" x2="86.00" y2="341.00" stroke="#111" stroke-width="1"/>
<text class="ax" x="86.00" y="350.90" text-anchor="middle">82°E</text>
<line x1="113.85" y1="336.80" x2="113.85" y2="341.00" stroke="#111" stroke-width="1"/>
<text class="ax" x="113.85" y="350.90" text-anchor="middle">83°E</text>
<line x1="141.70" y1="336.80" x2="141.70" y2="341.00" stroke="#111" stroke-width="1"/>
<text class="ax" x="141.70" y="350.90" text-anchor="middle">84°E</text>
<line x1="169.55" y1="336.80" x2="169.55" y2="341.00" stroke="#111" stroke-width="1"/>
<text class="ax" x="169.55" y="350.90" text-anchor="middle">85°E</text>
<line x1="197.40" y1="336.80" x2="197.40" y2="341.00" stroke="#111" stroke-width="1"/>
<text class="ax" x="197.40" y="350.90" text-anchor="middle">86°E</text>
<line x1="225.25" y1="336.80" x2="225.25" y2="341.00" stroke="#111" stroke-width="1"/>
<text class="ax" x="225.25" y="350.90" text-anchor="middle">87°E</text>
<line x1="253.10" y1="336.80" x2="253.10" y2="341.00" stroke="#111" stroke-width="1"/>
<text class="ax" x="253.10" y="350.90" text-anchor="middle">88°E</text>
<line x1="18.60" y1="185.80" x2="14.60" y2="185.80" stroke="#111" stroke-width="1"/>
<text class="ax" transform="translate(11.20,186.20) rotate(-90)" text-anchor="middle">31°N</text>
<line x1="18.60" y1="213.58" x2="14.60" y2="213.58" stroke="#111" stroke-width="1"/>
<text class="ax" transform="translate(11.20,213.98) rotate(-90)" text-anchor="middle">30°N</text>
<line x1="18.60" y1="241.36" x2="14.60" y2="241.36" stroke="#111" stroke-width="1"/>
<text class="ax" transform="translate(11.20,241.76) rotate(-90)" text-anchor="middle">29°N</text>
<line x1="18.60" y1="269.14" x2="14.60" y2="269.14" stroke="#111" stroke-width="1"/>
<text class="ax" transform="translate(11.20,269.54) rotate(-90)" text-anchor="middle">28°N</text>
<line x1="18.60" y1="296.92" x2="14.60" y2="296.92" stroke="#111" stroke-width="1"/>
<text class="ax" transform="translate(11.20,297.32) rotate(-90)" text-anchor="middle">27°N</text>
<line x1="18.60" y1="324.70" x2="14.60" y2="324.70" stroke="#111" stroke-width="1"/>
<text class="ax" transform="translate(11.20,325.10) rotate(-90)" text-anchor="middle">26°N</text>
<text class="lab" x="32.00" y="201.60">(c)</text>
<g transform="translate(261.33,164.33) scale(0.9920,0.9900)">
<g clip-path="url(#nepal)"><g filter="url(#cd)"><g transform="rotate(17)"><g filter="url(#fd)"><g transform="rotate(-17)">
<rect x="-20" y="-20" width="340" height="240" fill="rgb(163,163,163)"/>
<polygon points="22.0,0.0 22.0,80.4 25.0,80.7 28.0,81.8 31.0,82.8 34.0,83.3 37.0,84.0 40.0,84.8 43.0,86.0 46.0,87.2 49.0,88.5 52.0,89.9 55.0,91.3 58.0,92.7 61.0,94.2 64.0,95.9 67.0,97.8 70.0,99.8 73.0,101.8 76.0,103.5 79.0,104.6 82.0,105.7 85.0,106.8 88.0,107.9 91.0,109.1 94.0,110.3 97.0,111.6 100.0,113.0 103.0,114.3 106.0,115.6 109.0,116.9 112.0,118.1 115.0,118.4 118.0,118.6 121.0,118.8 124.0,119.0 127.0,119.3 130.0,119.5 133.0,119.7 136.0,119.8 139.0,119.9 142.0,120.6 145.0,121.5 148.0,122.6 151.0,123.8 154.0,124.9 157.0,125.9 160.0,128.8 163.0,131.7 166.0,134.7 169.0,140.0 172.0,145.4 175.0,150.5 178.0,152.6 181.0,153.1 184.0,153.6 187.0,154.2 190.0,154.7 193.0,155.3 196.0,155.9 199.0,156.5 202.0,157.1 205.0,157.7 208.0,158.5 211.0,159.3 214.0,160.1 217.0,160.9 220.0,161.7 223.0,162.4 226.0,162.9 229.0,163.4 232.0,163.5 235.0,163.5 238.0,163.5 241.0,163.4 244.0,163.4 247.0,163.6 250.0,163.9 253.0,164.1 256.0,164.4 259.0,164.6 262.0,164.6 265.0,164.6 265.0,0.0" fill="rgb(135,135,135)"/>
<polygon points="22.0,0.0 22.0,81.0 25.0,81.2 28.0,81.9 31.0,82.5 34.0,81.7 37.0,81.3 40.0,81.4 43.0,82.3 46.0,83.4 49.0,84.6 52.0,85.8 55.0,87.2 58.0,88.8 61.0,90.3 64.0,91.9 67.0,93.6 70.0,95.5 73.0,97.5 76.0,99.2 79.0,100.3 82.0,101.5 85.0,102.6 88.0,103.8 91.0,105.2 94.0,106.5 97.0,108.0 100.0,109.4 103.0,110.9 106.0,112.2 109.0,113.5 112.0,114.9 115.0,115.2 118.0,115.5 121.0,115.8 124.0,116.1 127.0,116.5 130.0,116.9 133.0,117.2 136.0,117.3 139.0,117.4 142.0,118.1 145.0,119.0 148.0,120.1 151.0,121.2 154.0,121.9 157.0,122.4 160.0,124.4 163.0,126.3 166.0,127.0 169.0,127.0 172.0,127.3 175.0,127.9 178.0,128.5 181.0,129.2 184.0,129.9 187.0,130.6 190.0,131.3 193.0,132.0 196.0,132.8 199.0,133.5 202.0,134.4 205.0,135.5 208.0,135.8 211.0,136.1 214.0,136.4 217.0,136.7 220.0,137.0 223.0,137.4 226.0,138.0 229.0,138.6 232.0,139.0 235.0,139.3 238.0,139.7 241.0,140.0 244.0,140.3 247.0,140.5 250.0,140.5 253.0,140.6 256.0,140.6 259.0,140.7 262.0,140.7 265.0,140.7 265.0,0.0" fill="rgb(107,107,107)"/>
<polygon points="22.0,0.0 22.0,84.8 25.0,84.1 28.0,82.4 31.0,80.8 34.0,71.6 37.0,64.2 40.0,59.5 43.0,59.5 46.0,60.1 49.0,61.3 52.0,63.2 55.0,65.6 58.0,69.1 61.0,72.1 64.0,73.0 67.0,74.0 70.0,75.6 73.0,77.5 76.0,79.2 79.0,80.5 82.0,81.9 85.0,83.2 88.0,84.6 91.0,86.8 94.0,88.9 97.0,91.1 100.0,93.3 103.0,95.0 106.0,96.7 109.0,98.1 112.0,99.6 115.0,100.3 118.0,101.0 121.0,101.7 124.0,102.6 127.0,103.7 130.0,104.7 133.0,105.2 136.0,105.3 139.0,105.4 142.0,105.9 145.0,106.6 148.0,108.3 151.0,110.4 154.0,112.3 157.0,113.4 160.0,115.3 163.0,117.2 166.0,118.1 169.0,118.6 172.0,119.0 175.0,119.9 178.0,120.8 181.0,121.7 184.0,122.7 187.0,123.6 190.0,124.6 193.0,125.5 196.0,126.4 199.0,127.4 202.0,128.5 205.0,129.6 208.0,129.8 211.0,129.9 214.0,130.1 217.0,130.3 220.0,130.4 223.0,130.8 226.0,131.4 229.0,132.1 232.0,132.5 235.0,133.0 238.0,133.4 241.0,133.8 244.0,134.2 247.0,134.4 250.0,134.4 253.0,134.4 256.0,134.4 259.0,134.4 262.0,134.4 265.0,134.4 265.0,0.0" fill="rgb(84,84,84)"/>
<polygon points="22.0,0.0 22.0,85.2 25.0,84.4 28.0,82.4 31.0,80.6 34.0,70.2 37.0,61.7 40.0,56.1 43.0,54.5 46.0,53.8 49.0,54.8 52.0,56.4 55.0,58.8 58.0,62.4 61.0,65.4 64.0,65.9 67.0,66.6 70.0,67.9 73.0,69.6 76.0,71.1 79.0,72.4 82.0,73.6 85.0,74.9 88.0,76.2 91.0,78.6 94.0,80.9 97.0,83.2 100.0,85.5 103.0,87.4 106.0,89.2 109.0,90.7 112.0,92.1 115.0,93.0 118.0,93.9 121.0,94.8 124.0,96.0 127.0,97.4 130.0,98.7 133.0,99.3 136.0,99.4 139.0,99.5 142.0,99.9 145.0,100.5 148.0,102.4 151.0,104.9 154.0,107.2 157.0,108.4 160.0,110.0 163.0,111.6 166.0,112.4 169.0,112.8 172.0,113.3 175.0,114.3 178.0,115.3 181.0,116.3 184.0,117.3 187.0,118.4 190.0,119.4 193.0,120.4 196.0,121.5 199.0,122.5 202.0,123.7 205.0,125.0 208.0,125.1 211.0,125.2 214.0,125.3 217.0,125.4 220.0,125.5 223.0,125.8 226.0,126.6 229.0,127.3 232.0,127.9 235.0,128.4 238.0,128.9 241.0,129.5 244.0,130.0 247.0,130.2 250.0,130.2 253.0,130.2 256.0,130.2 259.0,130.2 262.0,130.2 265.0,130.2 265.0,0.0" fill="rgb(64,64,64)"/>
<polygon points="22.0,0.0 22.0,85.6 25.0,84.8 28.0,82.5 31.0,80.3 34.0,68.1 37.0,57.6 40.0,50.1 43.0,47.1 46.0,44.2 49.0,41.6 52.0,41.6 55.0,43.6 58.0,47.4 61.0,52.2 64.0,54.0 67.0,54.0 70.0,55.1 73.0,56.5 76.0,57.9 79.0,59.2 82.0,60.5 85.0,61.8 88.0,63.1 91.0,65.8 94.0,68.5 97.0,71.2 100.0,73.9 103.0,75.9 106.0,77.8 109.0,79.2 112.0,80.7 115.0,81.8 118.0,82.9 121.0,84.0 124.0,85.5 127.0,87.3 130.0,89.1 133.0,89.7 136.0,89.8 139.0,89.8 142.0,90.0 145.0,90.4 148.0,92.6 151.0,95.7 154.0,98.5 157.0,99.7 160.0,100.6 163.0,101.6 166.0,102.0 169.0,102.2 172.0,102.4 175.0,103.4 178.0,104.5 181.0,105.5 184.0,106.6 187.0,107.7 190.0,108.8 193.0,109.8 196.0,110.9 199.0,112.0 202.0,113.5 205.0,115.1 208.0,115.2 211.0,115.2 214.0,115.3 217.0,115.4 220.0,115.4 223.0,115.8 226.0,116.8 229.0,117.7 232.0,118.6 235.0,119.4 238.0,120.3 241.0,121.1 244.0,121.9 247.0,122.2 250.0,122.3 253.0,122.4 256.0,122.5 259.0,122.6 262.0,122.6 265.0,122.6 265.0,0.0" fill="rgb(48,48,48)"/>
<ellipse cx="179.0" cy="115.5" rx="3.5" ry="2.0" fill="rgb(178,178,178)" transform="rotate(0.0 179.0 115.5)"/>
<ellipse cx="203.0" cy="140.5" rx="19.0" ry="1.2" fill="rgb(176,176,176)" transform="rotate(14.0 203.0 140.5)"/>
<ellipse cx="242.0" cy="146.5" rx="11.0" ry="1.1" fill="rgb(176,176,176)" transform="rotate(2.0 242.0 146.5)"/>
<ellipse cx="40.0" cy="86.0" rx="11.0" ry="2.2" fill="rgb(178,178,178)" transform="rotate(25.0 40.0 86.0)"/>
<ellipse cx="232.0" cy="122.0" rx="6.0" ry="5.0" fill="rgb(92,92,92)" transform="rotate(0.0 232.0 122.0)"/>
<ellipse cx="149.4" cy="117.5" rx="4.2" ry="1.8" fill="rgb(178,178,178)" transform="rotate(-10.0 149.4 117.5)"/>
<ellipse cx="140.3" cy="120.3" rx="1.8" ry="1.2" fill="rgb(204,204,204)" transform="rotate(0.0 140.3 120.3)"/>
</g></g></g></g>
<use href="#dl"/>
</g>
</g>
<rect x="278.20" y="183.30" width="252.40" height="154.20" fill="none" stroke="#111" stroke-width="1.3"/>
<line x1="289.60" y1="337.50" x2="289.60" y2="341.70" stroke="#111" stroke-width="1"/>
<text class="ax" x="289.60" y="352.10" text-anchor="middle">80°E</text>
<line x1="317.48" y1="337.50" x2="317.48" y2="341.70" stroke="#111" stroke-width="1"/>
<text class="ax" x="317.48" y="352.10" text-anchor="middle">81°E</text>
<line x1="345.35" y1="337.50" x2="345.35" y2="341.70" stroke="#111" stroke-width="1"/>
<text class="ax" x="345.35" y="352.10" text-anchor="middle">82°E</text>
<line x1="373.23" y1="337.50" x2="373.23" y2="341.70" stroke="#111" stroke-width="1"/>
<text class="ax" x="373.23" y="352.10" text-anchor="middle">83°E</text>
<line x1="401.10" y1="337.50" x2="401.10" y2="341.70" stroke="#111" stroke-width="1"/>
<text class="ax" x="401.10" y="352.10" text-anchor="middle">84°E</text>
<line x1="428.98" y1="337.50" x2="428.98" y2="341.70" stroke="#111" stroke-width="1"/>
<text class="ax" x="428.98" y="352.10" text-anchor="middle">85°E</text>
<line x1="456.85" y1="337.50" x2="456.85" y2="341.70" stroke="#111" stroke-width="1"/>
<text class="ax" x="456.85" y="352.10" text-anchor="middle">86°E</text>
<line x1="484.73" y1="337.50" x2="484.73" y2="341.70" stroke="#111" stroke-width="1"/>
<text class="ax" x="484.73" y="352.10" text-anchor="middle">87°E</text>
<line x1="512.60" y1="337.50" x2="512.60" y2="341.70" stroke="#111" stroke-width="1"/>
<text class="ax" x="512.60" y="352.10" text-anchor="middle">88°E</text>
<line x1="530.60" y1="186.90" x2="534.60" y2="186.90" stroke="#111" stroke-width="1"/>
<text class="ax" transform="translate(544.40,187.30) rotate(-90)" text-anchor="middle">31°N</text>
<line x1="530.60" y1="214.68" x2="534.60" y2="214.68" stroke="#111" stroke-width="1"/>
<text class="ax" transform="translate(544.40,215.08) rotate(-90)" text-anchor="middle">30°N</text>
<line x1="530.60" y1="242.46" x2="534.60" y2="242.46" stroke="#111" stroke-width="1"/>
<text class="ax" transform="translate(544.40,242.86) rotate(-90)" text-anchor="middle">29°N</text>
<line x1="530.60" y1="270.24" x2="534.60" y2="270.24" stroke="#111" stroke-width="1"/>
<text class="ax" transform="translate(544.40,270.64) rotate(-90)" text-anchor="middle">28°N</text>
<line x1="530.60" y1="298.02" x2="534.60" y2="298.02" stroke="#111" stroke-width="1"/>
<text class="ax" transform="translate(544.40,298.42) rotate(-90)" text-anchor="middle">27°N</text>
<line x1="530.60" y1="325.80" x2="534.60" y2="325.80" stroke="#111" stroke-width="1"/>
<text class="ax" transform="translate(544.40,326.20) rotate(-90)" text-anchor="middle">26°N</text>
<text class="lab" x="290.40" y="200.70">(d)</text>
<text class="n" x="515.00" y="194.90" text-anchor="middle">N</text>
<path d="M515.20 197.90 L508.00 220.90 L515.00 213.20 Z" fill="#111"/>
<path d="M515.20 197.90 L521.40 220.60 L515.00 213.20 Z" fill="#fff" stroke="#111" stroke-width="0.9" stroke-linejoin="miter"/>
<rect x="102.9" y="369.70" width="90.8" height="4.10" fill="#fff" stroke="#111" stroke-width="0.8"/>
<rect x="102.90" y="369.40" width="10.70" height="4.70" fill="#111"/>
<rect x="123.30" y="369.40" width="10.20" height="4.70" fill="#111"/>
<rect x="163.30" y="369.40" width="30.40" height="4.70" fill="#111"/>
<text class="sm" x="103.20" y="366.6" text-anchor="middle">0</text>
<text class="sm" x="118.50" y="366.6" text-anchor="middle">60</text>
<text class="sm" x="133.70" y="366.6" text-anchor="middle">120</text>
<text class="sm" x="163.60" y="366.6" text-anchor="middle">240</text>
<text class="sm" x="193.60" y="366.6" text-anchor="middle">360</text>
<text x="195.6" y="373.7" style="font-size:9px;font-weight:bold">KM</text>
<rect x="234.00" y="362.2" width="18.92" height="9.0" fill="rgb(12,12,245)" stroke="#6e6e6e" stroke-width="0.6"/>
<rect x="252.92" y="362.2" width="18.92" height="9.0" fill="rgb(0,100,242)" stroke="#6e6e6e" stroke-width="0.6"/>
<rect x="271.84" y="362.2" width="18.92" height="9.0" fill="rgb(0,166,242)" stroke="#6e6e6e" stroke-width="0.6"/>
<rect x="290.76" y="362.2" width="18.92" height="9.0" fill="rgb(0,250,250)" stroke="#6e6e6e" stroke-width="0.6"/>
<rect x="309.68" y="362.2" width="18.92" height="9.0" fill="rgb(20,236,162)" stroke="#6e6e6e" stroke-width="0.6"/>
<rect x="328.60" y="362.2" width="18.92" height="9.0" fill="rgb(170,245,82)" stroke="#6e6e6e" stroke-width="0.6"/>
<rect x="347.52" y="362.2" width="18.92" height="9.0" fill="rgb(255,255,0)" stroke="#6e6e6e" stroke-width="0.6"/>
<rect x="366.44" y="362.2" width="18.92" height="9.0" fill="rgb(255,190,0)" stroke="#6e6e6e" stroke-width="0.6"/>
<rect x="385.36" y="362.2" width="18.92" height="9.0" fill="rgb(255,108,0)" stroke="#6e6e6e" stroke-width="0.6"/>
<rect x="404.28" y="362.2" width="18.92" height="9.0" fill="rgb(255,0,0)" stroke="#6e6e6e" stroke-width="0.6"/>
<text class="sm" x="245.60" y="381.5" text-anchor="middle">10</text>
<text class="sm" x="264.20" y="381.5" text-anchor="middle">20</text>
<text class="sm" x="282.90" y="381.5" text-anchor="middle">30</text>
<text class="sm" x="301.70" y="381.5" text-anchor="middle">40</text>
<text class="sm" x="320.50" y="381.5" text-anchor="middle">50</text>
<text class="sm" x="340.00" y="381.5" text-anchor="middle">60</text>
<text class="sm" x="358.80" y="381.5" text-anchor="middle">70</text>
<text class="sm" x="377.80" y="381.5" text-anchor="middle">80</text>
<text class="sm" x="396.40" y="381.5" text-anchor="middle">90</text>
<text class="sm" x="411.80" y="381.5" text-anchor="middle">100</text>
<text x="426.6" y="376.2" style="font-size:12.7px;font-weight:bold">PM<tspan dy="2.6" style="font-size:8px">2.5</tspan><tspan dy="-2.6">(μg/m</tspan><tspan dy="-4.2" style="font-size:7.5px">3</tspan><tspan dy="4.2">)</tspan></text>
</svg></body></html>
